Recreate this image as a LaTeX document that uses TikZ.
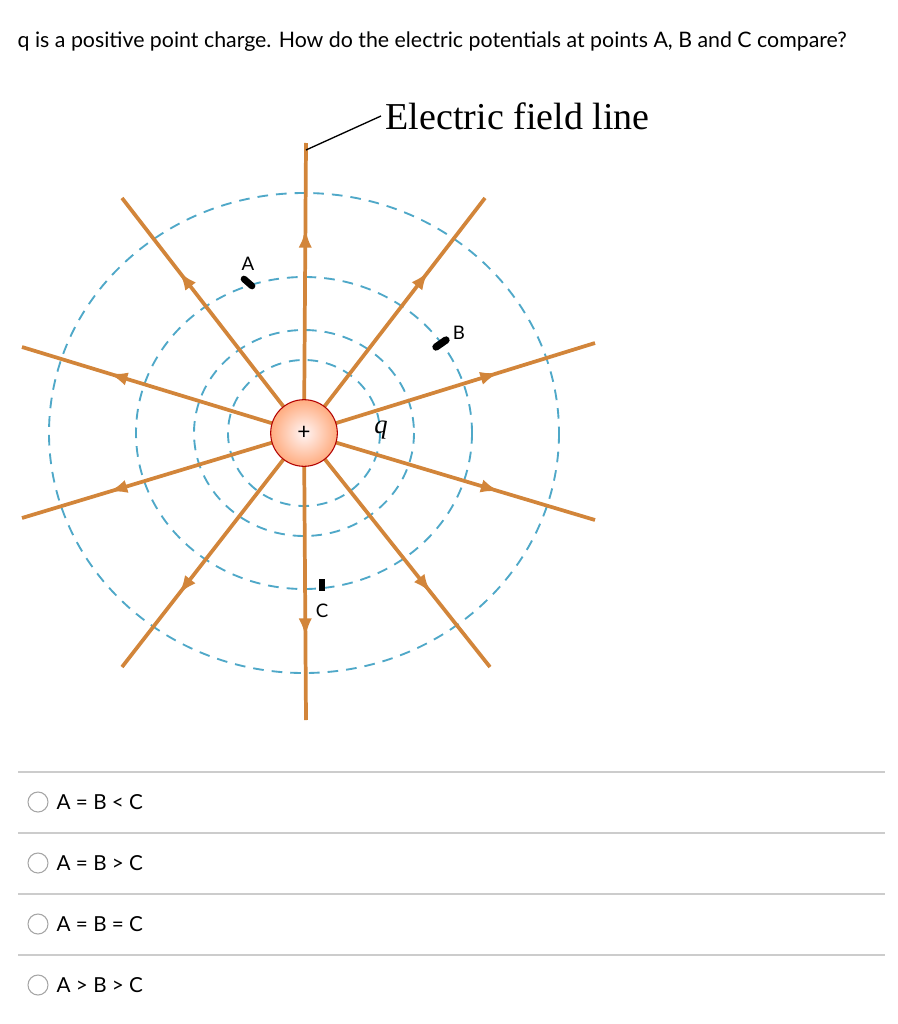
\documentclass[tikz,border=0pt]{standalone}
\usepackage{fontspec}
\setmainfont{Lato}
\newfontfamily\serifA{Liberation Serif}
\usetikzlibrary{decorations.markings,arrows.meta}
\definecolor{fl}{HTML}{D2853A}
\definecolor{eq}{HTML}{4FA8C8}
\begin{document}
\begin{tikzpicture}[x=0.75pt,y=-0.75pt,
 field/.style={fl,line width=2.8pt,postaction={decorate},decoration={markings,mark=at position 153pt with {\arrow{Latex[length=14pt,width=10pt]}}}},
 equi/.style={eq,line width=1.4pt,dash pattern=on 8pt off 6pt},
 opt/.style={anchor=west,font=\fontsize{15.5}{18}\selectfont},
 radio/.style={circle,draw=gray!70,line width=0.8pt,minimum size=15pt,inner sep=0pt}]
\useasboundingbox (0,0) rectangle (897,1024);
\node[anchor=west,font=\fontsize{16}{19}\selectfont] (title) at (13,42) {q is a positive point charge. How do the electric potentials at points A, B and C compare?};
\coordinate (o) at (304,433);
\foreach \rx/\ry in {76/73,110/103,168/156,255/240}
  \draw[equi] (o) ellipse ({\rx} and {\ry});
\coordinate (e1) at (306,143); \coordinate (e2) at (306,720);
\coordinate (e3) at (122,198); \coordinate (e4) at (490,667);
\coordinate (e5) at (485,198); \coordinate (e6) at (122,667);
\coordinate (e7) at (22,347); \coordinate (e8) at (595,520);
\coordinate (e9) at (22,518); \coordinate (e10) at (595,343);
\foreach \e in {e1,e2,e3,e4,e5,e6,e7,e8,e9,e10}
  \draw[field] (o) -- (\e);
\shade[inner color=white!80!red!20,outer color=red!30!orange!50,draw=red!70!black,line width=0.8pt] (o) circle (25pt);
\node[font=\fontsize{17}{17}\selectfont] (plus) at (o) {+};
\node[font=\serifA\itshape\fontsize{20}{20}\selectfont] (q) at (381,430) {q};
\draw[line width=5pt,line cap=round] (244,279) -- (252,286);
\node[font=\fontsize{14}{14}\selectfont] (A) at (248,264) {A};
\draw[line width=5.5pt,line cap=round] (436,347) -- (446,340);
\node[font=\fontsize{14}{14}\selectfont] (B) at (459,333) {B};
\draw[line width=4pt] (322,579) -- (322,591);
\node[font=\fontsize{14}{14}\selectfont] (C) at (322,611) {C};
\node[anchor=west,font=\serifA\fontsize{28.5}{28.5}\selectfont] (lab) at (381,116) {Electric field line};
\coordinate (lt) at (306,150);
\draw[line width=1pt] (lt) -- (lab.west);
\foreach \y in {772,833,894,955}
  \draw[gray!40,line width=0.8pt] (18,\y) -- (885,\y);
\foreach \y/\t [count=\i] in {802/{A = B < C},863/{A = B > C},924/{A = B = C},985/{A > B > C}}{
  \node[radio] (r\i) at (38,\y) {};
  \node[opt] (o\i) at (52,\y) {\t};
}
\end{tikzpicture}
\end{document}
